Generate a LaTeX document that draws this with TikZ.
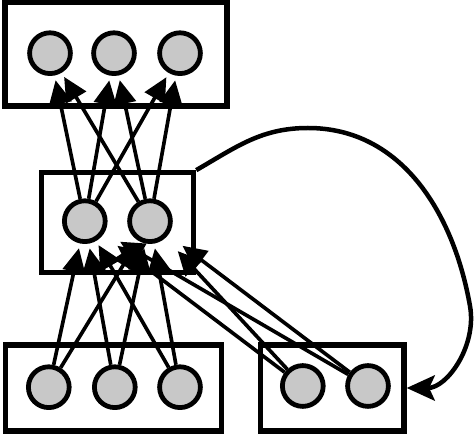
\documentclass[tikz,border=0pt]{standalone}
\usepackage{tikz}
\usetikzlibrary{arrows.meta}
\definecolor{unitgray}{RGB}{200,200,200}

\begin{document}
\begin{tikzpicture}[
    unit/.style={draw, circle, line width=3.4pt, fill=unitgray, minimum size=1.02cm, inner sep=0pt},
    layer/.style={draw, line width=3.8pt, inner sep=0pt},
    link/.style={-{Triangle[length=17pt 0 0, width=16pt 0 0]}, line width=2.6pt, shorten >=0.12cm}
]
    \useasboundingbox (0,0) rectangle (11.85,10.85);

    % layer boxes
    \node[layer, minimum width=5.55cm, minimum height=2.6cm] (outbox) at (2.9,9.5) {};
    \node[layer, minimum width=3.8cm, minimum height=2.5cm] (hidbox) at (2.94,5.28) {};
    \node[layer, minimum width=5.4cm, minimum height=2.15cm] (inbox) at (2.83,1.15) {};
    \node[layer, minimum width=3.58cm, minimum height=2.15cm] (ctxbox) at (8.31,1.15) {};

    % units
    \node[unit] (out1) at (1.25,9.52) {};
    \node[unit] (out2) at (2.85,9.52) {};
    \node[unit] (out3) at (4.5,9.52) {};
    \node[unit] (hid1) at (2.12,5.32) {};
    \node[unit] (hid2) at (3.75,5.32) {};
    \node[unit] (in1) at (1.22,1.17) {};
    \node[unit] (in2) at (2.87,1.17) {};
    \node[unit] (in3) at (4.5,1.17) {};
    \node[unit] (ctx1) at (7.57,1.2) {};
    \node[unit] (ctx2) at (9.2,1.2) {};

    % hidden -> output
    \draw[link] (hid1) -- (out1);
    \draw[link] (hid1) -- (out2);
    \draw[link] (hid1) -- (out3);
    \draw[link] (hid2) -- (out1);
    \draw[link] (hid2) -- (out2);
    \draw[link] (hid2) -- (out3);

    % input -> hidden
    \draw[link] (in1) -- (hid1);
    \draw[link] (in1) -- (hid2);
    \draw[link] (in2) -- (hid1);
    \draw[link] (in2) -- (hid2);
    \draw[link] (in3) -- (hid1);
    \draw[link] (in3) -- (hid2);

    % context -> hidden
    \draw[link, shorten >=0.45cm] (ctx1) -- (hid1);
    \draw[link, shorten >=0.45cm] (ctx1) -- (hid2);
    \draw[link, shorten >=0.45cm] (ctx2) -- (hid1);
    \draw[link, shorten >=0.45cm] (ctx2) -- (hid2);

    % copy back to context
    \draw[line width=3.2pt, -{Stealth[length=20pt 0 0, width=18pt 0 0, inset=4pt]}] (hidbox.north east) to[out=30, in=180] (7.7,7.65) to[out=0, in=100] (11.75,3.2) to[out=-80, in=0] (ctxbox.east);
\end{tikzpicture}
\end{document}
